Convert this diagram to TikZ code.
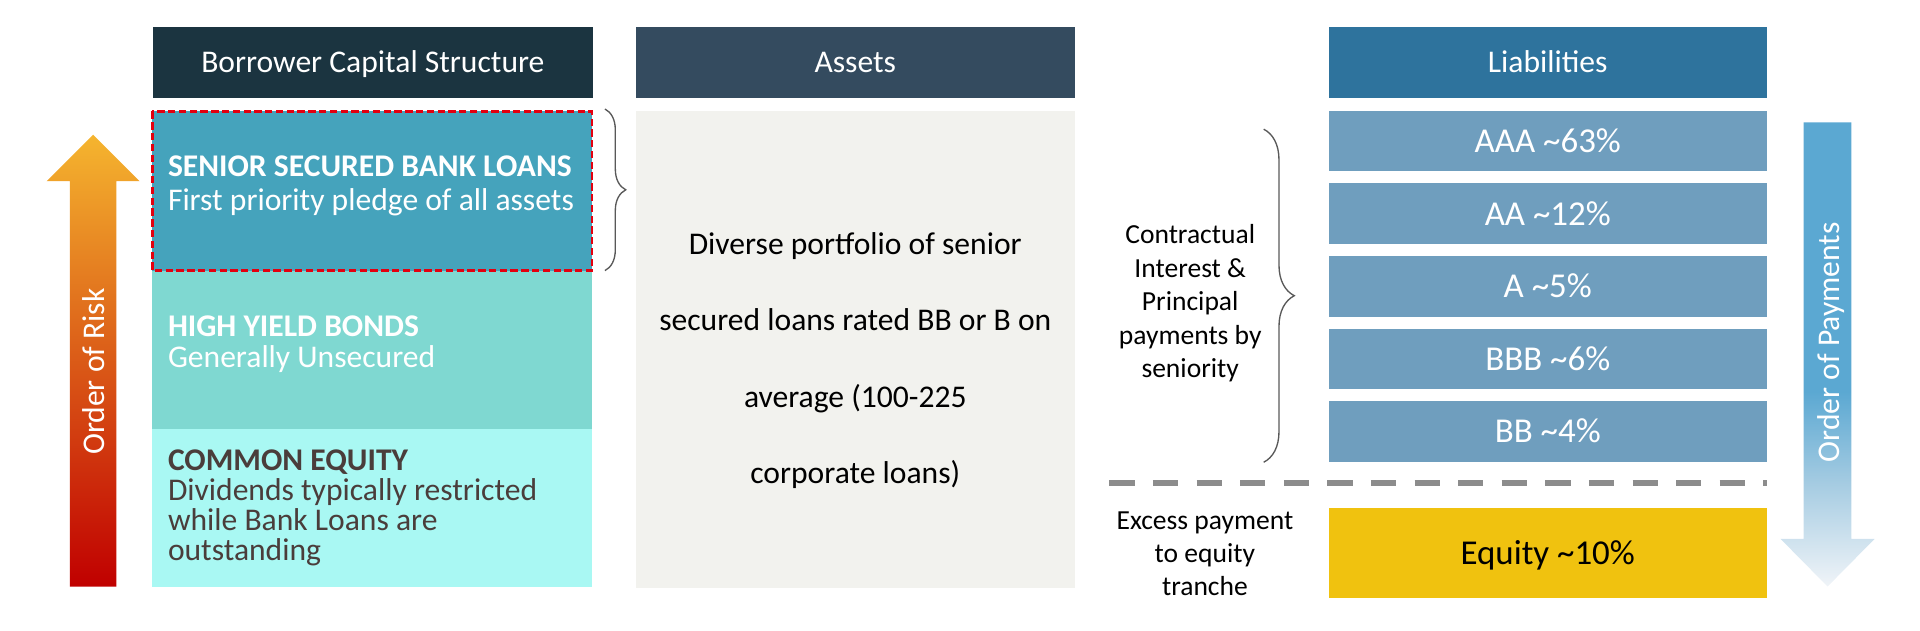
\documentclass[tikz,border=0pt]{standalone}
\usepackage{fontspec}
\setmainfont{Carlito}
\usetikzlibrary{decorations.pathreplacing}
\definecolor{chdrL}{HTML}{1B3440}
\definecolor{chdrA}{HTML}{344B5F}
\definecolor{chdrR}{HTML}{2E739D}
\definecolor{csen}{HTML}{45A3BC}
\definecolor{chy}{HTML}{7FD8D1}
\definecolor{cce}{HTML}{A9F8F3}
\definecolor{casset}{HTML}{F2F2EE}
\definecolor{ctr}{HTML}{6F9EBE}
\definecolor{ceq}{HTML}{F0C20F}
\definecolor{cceText}{HTML}{4A3D3B}
\definecolor{cdash}{HTML}{8C8C8C}
\definecolor{cbrace}{HTML}{595959}
\definecolor{cred}{HTML}{E3000F}
\definecolor{criskTop}{HTML}{F5B52F}
\definecolor{criskMid}{HTML}{E0640C}
\definecolor{criskBot}{HTML}{C00000}
\definecolor{cpayTop}{HTML}{5BA8D2}
\definecolor{cpayFade}{HTML}{A6CCE2}
\definecolor{cpayBot}{HTML}{F0F4F8}
\pgfdeclareverticalshading{payshade}{100bp}{color(0bp)=(cpayBot); color(25bp)=(cpayBot); color(36bp)=(cpayFade); color(46bp)=(cpayTop); color(75bp)=(cpayTop); color(100bp)=(cpayTop)}
\begin{document}
\begin{tikzpicture}[x=1pt,y=-1pt,
  box/.style={rectangle, draw=none, inner sep=0pt, outer sep=0pt},
  hfont/.style={font=\fontsize{25.8}{31}\selectfont},
  tfont/.style={font=\fontsize{28.5}{34}\selectfont},
  sfont/.style={font=\fontsize{22.5}{27}\selectfont},
  hdr/.style={box, minimum width=359pt, minimum height=58pt, text=white, hfont, text height=16.6pt, text depth=0pt},
  tranche/.style={box, fill=ctr, minimum width=358pt, minimum height=49.5pt, text=white, tfont, text height=18.4pt, text depth=0pt},
  colbox/.style={box, minimum width=359pt},
  ltxt/.style={inner sep=0pt, anchor=base west, hfont},
  ctxt/.style={inner sep=0pt, anchor=base},
  bracestyle/.style={draw=cbrace, line width=1.1pt, decorate},
]
\useasboundingbox (0,0) rectangle (1568,514.5);

% headers
\node[hdr, fill=chdrL] (hdrL) at (304.5,51) {Borrower Capital Structure};
\node[hdr, fill=chdrA] (hdrA) at (698.5,51) {Assets};
\node[hdr, fill=chdrR, minimum width=358pt] (hdrR) at (1264,51) {Liabilities};

% borrower capital structure
\node[colbox, fill=csen, minimum height=130pt] (sen) at (304,156) {};
\node[colbox, fill=chy, minimum height=129pt] (hy) at (304,285.5) {};
\node[colbox, fill=cce, minimum height=129pt] (ce) at (304,414.5) {};
\draw[cred, line width=2.2pt, dash pattern=on 6pt off 2.8pt] (sen.north west) rectangle (sen.south east);

\node[ltxt, text=white, font=\fontsize{25.8}{31}\selectfont\bfseries] (senA) at (137,144) {SENIOR SECURED BANK LOANS};
\node[ltxt, text=white] (senB) at (137,171.5) {First priority pledge of all assets};
\node[ltxt, text=white, font=\fontsize{25.8}{31}\selectfont\bfseries] (hyA) at (137,275) {HIGH YIELD BONDS};
\node[ltxt, text=white] (hyB) at (137,300.5) {Generally Unsecured};
\node[ltxt, text=cceText, font=\fontsize{25.8}{31}\selectfont\bfseries] (ceA) at (137,384.5) {COMMON EQUITY};
\node[ltxt, text=cceText] (ceB) at (137,408.5) {Dividends typically restricted};
\node[ltxt, text=cceText] (ceC) at (137,433.5) {while Bank Loans are};
\node[ltxt, text=cceText] (ceD) at (137,458) {outstanding};

% order of risk arrow
\shade[top color=criskTop, middle color=criskMid, bottom color=criskBot]
  (57,479) -- (57,148) -- (38,148) -- (76,110) -- (114,148) -- (95,148) -- (95,479) -- cycle;
\node[inner sep=0pt, anchor=base, rotate=90, text=white, hfont] (risk) at (85.7,303.5) {Order of Risk};

% left brace
\coordinate (lbT) at (494,89);
\coordinate (lbB) at (494,221);
\draw[bracestyle, decoration={brace, amplitude=17pt}] (lbT) -- (lbB);

% assets
\node[colbox, fill=casset, minimum height=389.5pt] (assets) at (698.5,285.25) {};
\node[ctxt, hfont] (asA) at (698.5,207.6) {Diverse portfolio of senior};
\node[ctxt, hfont] (asB) at (698.5,270) {secured loans rated BB or B on};
\node[ctxt, hfont] (asC) at (698.5,332.5) {average (100-225};
\node[ctxt, hfont] (asD) at (698.5,395) {corporate loans)};

% right brace and side texts
\coordinate (rbT) at (1032,105.5);
\coordinate (rbB) at (1032,377.5);
\draw[bracestyle, decoration={brace, amplitude=25pt}] (rbT) -- (rbB);
\node[ctxt, sfont] (ctA) at (972,198.5) {Contractual};
\node[ctxt, sfont] (ctB) at (972,226.4) {Interest \&};
\node[ctxt, sfont] (ctC) at (972,253.7) {Principal};
\node[ctxt, sfont] (ctD) at (972,281) {payments by};
\node[ctxt, sfont] (ctE) at (972,308.5) {seniority};
\node[ctxt, sfont] (exA) at (984,432.7) {Excess payment};
\node[ctxt, sfont] (exB) at (984,459.7) {to equity};
\node[ctxt, sfont] (exC) at (984,486.6) {tranche};

% liabilities
\node[tranche] (aaa) at (1264,115.25) {AAA \textasciitilde63\%};
\node[tranche] (aa) at (1264,174.55) {AA \textasciitilde12\%};
\node[tranche] (a) at (1264,233.85) {A \textasciitilde5\%};
\node[tranche] (bbb) at (1264,293.15) {BBB \textasciitilde6\%};
\node[tranche] (bb) at (1264,352.45) {BB \textasciitilde4\%};
\node[tranche, fill=ceq, text=black, minimum height=73pt] (eq) at (1264,451.5) {Equity \textasciitilde10\%};

% dashed separator
\coordinate (dashL) at (906,394.5);
\coordinate (dashR) at (1443,394.5);
\draw[cdash, line width=5pt, dash pattern=on 20.6pt off 15pt] (dashL) -- (dashR);

% order of payments arrow
\shade[shading=payshade]
  (1473,100) -- (1512,100) -- (1512,440) -- (1531,440) -- (1492.5,479) -- (1454,440) -- (1473,440) -- cycle;
\node[inner sep=0pt, anchor=base, rotate=90, text=white, hfont] (pay) at (1502,279.5) {Order of Payments};
\end{tikzpicture}
\end{document}
